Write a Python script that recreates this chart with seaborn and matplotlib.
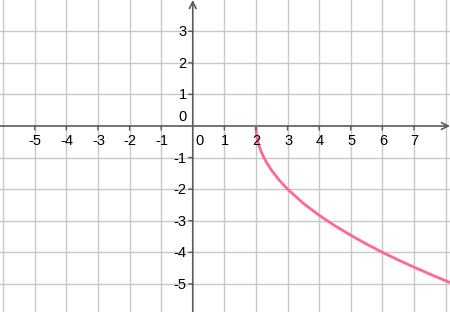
import matplotlib
matplotlib.use("Agg")
import matplotlib.pyplot as plt
import seaborn as sns
import pandas as pd

# Curve points
curve_x = [2.0, 2.003, 2.01, 2.03, 2.06, 2.1, 2.16, 2.25, 2.35, 2.5, 2.75, 3.0, 3.5, 4.0, 4.5, 5.0,
           5.5, 6.0, 6.5, 7.0, 7.5, 8.0, 8.2]
curve_y = [0.0, -0.11, -0.20, -0.35, -0.49, -0.63, -0.80, -1.0, -1.18, -1.41, -1.73, -2.0, -2.45,
           -2.83, -3.16, -3.46, -3.74, -4.0, -4.24, -4.47, -4.69, -4.90, -4.98]

x_tick_labels = [-5, -4, -3, -2, -1, 1, 2, 3, 4, 5, 6, 7]
y_tick_labels = [1, 2, 3, -1, -2, -3, -4, -5]

df = pd.DataFrame({"x": curve_x, "y": curve_y})

sns.set_style("white")
plt.rcParams["font.family"] = ["Liberation Sans", "DejaVu Sans"]

fig = plt.figure(figsize=(4.5, 3.12), dpi=100)
ax = fig.add_axes([0, 0, 1, 1])

xmin, xmax = -6.1, 8.14
ymin, ymax = -5.89, 3.99
ax.set_xlim(xmin, xmax)
ax.set_ylim(ymin, ymax)

grid_c = "#c8c8c8"
axis_c = "#5a5a5a"
for gx in range(-6, 9):
    if gx != 0:
        ax.axvline(gx, color=grid_c, lw=1.0, zorder=0)
for gy in range(-5, 4):
    if gy != 0:
        ax.axhline(gy, color=grid_c, lw=1.0, zorder=0)

# axes with arrows
ax.annotate("", xy=(xmax, 0), xytext=(xmin, 0), xycoords="data",
            arrowprops=dict(arrowstyle="->", color=axis_c, lw=1.2, mutation_scale=12,
                            shrinkA=0, shrinkB=0), zorder=2)
ax.annotate("", xy=(0, ymax), xytext=(0, ymin), xycoords="data",
            arrowprops=dict(arrowstyle="->", color=axis_c, lw=1.2, mutation_scale=12,
                            shrinkA=0, shrinkB=0), zorder=2)

sns.lineplot(data=df, x="x", y="y", sort=False, estimator=None, color="#ff6699",
             lw=2.0, ax=ax, zorder=3)

fs = 10.5
for v in x_tick_labels:
    ax.annotate("", xy=(v, 0), xytext=(0, -4), textcoords="offset pixels", xycoords="data",
                arrowprops=dict(arrowstyle="-", color=axis_c, lw=1.0, shrinkA=0, shrinkB=0))
    lab = str(v)
    ax.annotate(lab, xy=(v, 0), xytext=(0.5, -8), textcoords="offset pixels",
                ha="center", va="top", fontsize=fs, color="#000000")
ax.annotate("0", xy=(0, 0), xytext=(3, -8), textcoords="offset pixels",
            ha="left", va="top", fontsize=fs, color="#000000")
for v in y_tick_labels:
    ax.annotate("", xy=(0, v), xytext=(-4, 0), textcoords="offset pixels", xycoords="data",
                arrowprops=dict(arrowstyle="-", color=axis_c, lw=1.0, shrinkA=0, shrinkB=0))
    lab = str(v)
    ax.annotate(lab, xy=(0, v), xytext=(-6, -1), textcoords="offset pixels",
                ha="right", va="center", fontsize=fs, color="#000000")
ax.annotate("0", xy=(0, 0), xytext=(-6, 2), textcoords="offset pixels",
            ha="right", va="bottom", fontsize=fs, color="#000000")

ax.set_xlabel("")
ax.set_ylabel("")
ax.set_xticks([])
ax.set_yticks([])
for s in ax.spines.values():
    s.set_visible(False)

fig.savefig("out.png", dpi=100)
